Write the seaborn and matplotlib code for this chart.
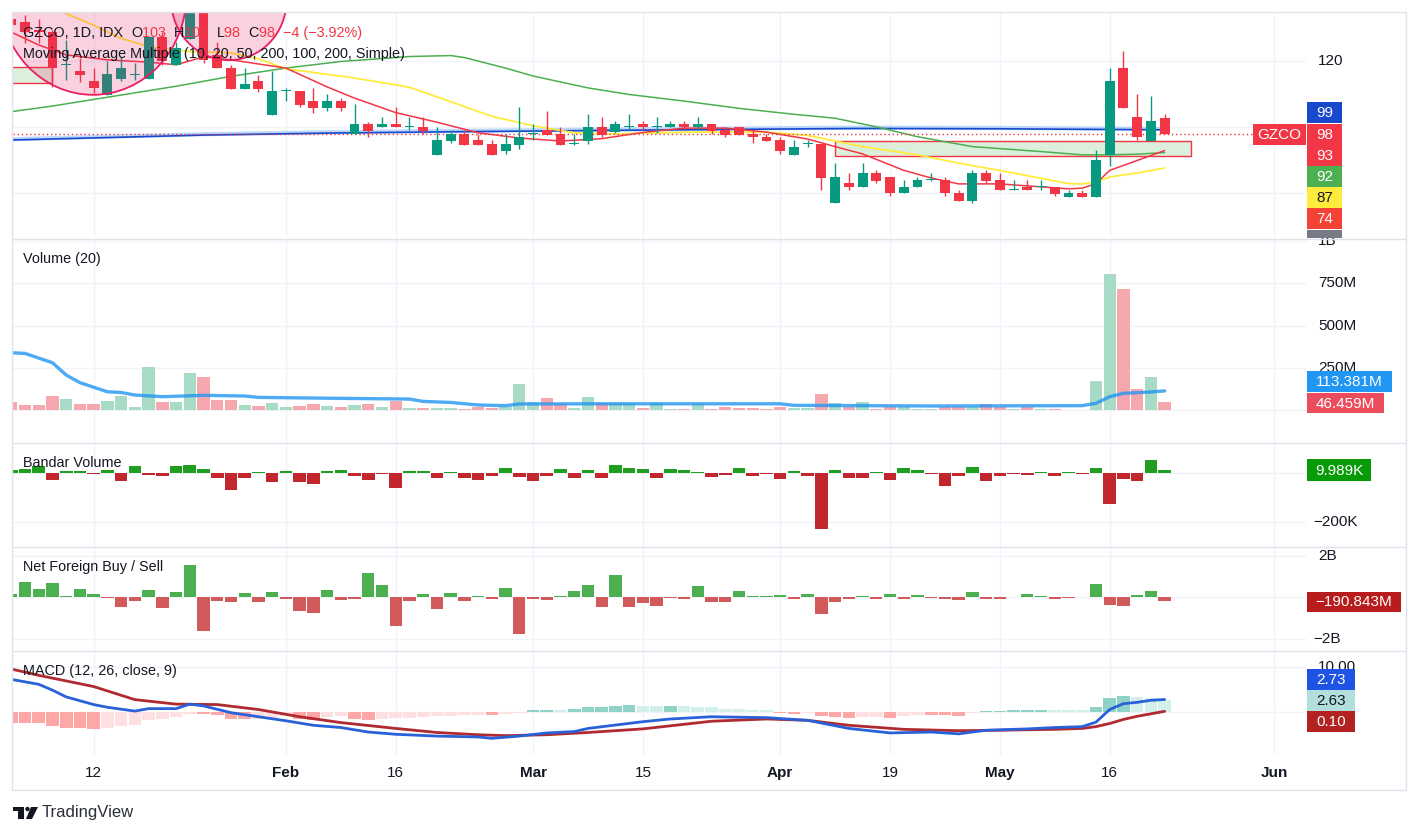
import matplotlib
matplotlib.use("Agg")
import numpy as np
import matplotlib.pyplot as plt
import matplotlib.transforms as mtransforms
from matplotlib.patches import Rectangle, Ellipse, Polygon, Circle
import seaborn as sns

# === DATA (one entry per daily bar) ===
opens = [133.0, 132.0, 129.5, 129.0, 119.0, 117.2, 114.1, 109.8, 114.7, 116.0,
         114.7, 127.3, 118.9, 126.7, 137.0, 122.0, 118.0, 111.6, 114.1, 103.8,
         111.2, 111.2, 108.0, 106.0, 108.0, 98.0, 101.1, 100.0, 101.1, 100.0,
         100.0, 91.7, 96.0, 98.0, 96.2, 95.0, 93.0, 94.7, 98.0, 99.2,
         98.0, 95.0, 96.0, 100.0, 98.7, 100.0, 101.1, 100.0, 100.0, 101.1,
         100.0, 101.1, 99.2, 100.0, 98.0, 97.2, 96.2, 91.7, 95.0, 95.0,
         77.0, 83.1, 81.9, 86.1, 84.9, 80.1, 81.9, 84.1, 84.1, 80.1,
         77.8, 86.1, 84.1, 81.1, 82.1, 81.9, 81.9, 79.0, 80.1, 79.0,
         91.7, 117.9, 103.3, 96.0, 103.0]
highs = [134.5, 134.1, 133.0, 129.5, 126.5, 121.0, 117.9, 120.0, 121.5, 119.4,
         127.5, 129.0, 126.0, 140.0, 139.0, 126.0, 119.0, 117.9, 115.9, 117.0,
         111.9, 111.2, 111.9, 110.0, 108.8, 107.0, 101.7, 103.1, 106.1, 103.1,
         103.1, 100.0, 99.2, 99.2, 98.0, 96.2, 98.0, 106.1, 101.1, 105.1,
         100.0, 98.0, 104.1, 103.1, 102.1, 104.1, 102.1, 103.1, 102.1, 102.1,
         103.1, 101.1, 100.0, 100.0, 99.2, 98.0, 97.2, 96.2, 96.2, 95.0,
         89.1, 86.1, 89.1, 87.1, 84.9, 84.2, 85.1, 86.1, 85.1, 81.1,
         87.1, 87.1, 86.1, 84.1, 84.1, 84.1, 82.1, 81.1, 81.1, 93.2,
         117.9, 123.1, 110.1, 109.4, 104.0]
lows = [130.0, 125.5, 125.5, 112.2, 114.4, 113.9, 110.4, 109.8, 114.2, 114.4,
        114.7, 119.0, 118.9, 126.7, 119.5, 118.0, 111.6, 111.6, 110.9, 103.8,
        108.1, 106.3, 104.3, 105.0, 105.0, 98.0, 97.2, 100.0, 100.0, 99.2,
        98.0, 91.7, 95.2, 94.7, 94.7, 91.7, 92.0, 93.5, 96.2, 97.7,
        94.7, 94.7, 95.0, 97.2, 98.2, 99.2, 99.2, 98.2, 100.0, 99.2,
        99.2, 98.0, 97.2, 97.7, 95.2, 96.0, 92.0, 91.7, 94.2, 81.1,
        77.0, 81.1, 81.9, 83.3, 79.3, 80.1, 81.9, 83.9, 79.3, 77.8,
        77.2, 83.3, 80.9, 80.9, 80.9, 81.1, 79.3, 79.0, 79.0, 79.0,
        88.2, 106.0, 96.2, 96.0, 98.0]
closes = [131.0, 129.0, 128.8, 118.0, 119.2, 115.9, 111.9, 116.2, 117.9, 116.3,
          127.3, 120.0, 124.0, 137.0, 120.5, 118.0, 111.6, 113.2, 111.6, 111.2,
          111.2, 106.8, 106.0, 108.0, 106.0, 101.1, 99.0, 101.1, 100.0, 100.0,
          99.0, 96.2, 98.0, 94.7, 94.7, 91.7, 95.0, 97.2, 98.0, 97.7,
          94.7, 95.0, 100.0, 97.7, 101.1, 100.0, 100.0, 100.0, 101.1, 100.0,
          101.1, 99.0, 97.7, 97.7, 97.0, 96.0, 93.0, 94.2, 95.0, 84.8,
          84.9, 81.9, 86.1, 83.9, 80.1, 81.9, 84.1, 84.1, 80.1, 77.8,
          86.1, 83.9, 80.9, 81.1, 80.9, 81.9, 79.9, 80.1, 79.0, 90.2,
          114.1, 106.0, 97.0, 102.0, 98.0]

# volume in millions of shares
volume = [49, 30, 30, 83, 65, 36, 36, 53, 83, 20,
          254, 47, 47, 219, 195, 59, 59, 30, 26, 41,
          20, 26, 36, 26, 20, 30, 36, 20, 53, 14,
          14, 14, 14, 6, 20, 14, 20, 154, 47, 71,
          36, 14, 77, 41, 41, 41, 14, 41, 6, 6,
          36, 6, 18, 12, 12, 4, 18, 14, 14, 95,
          41, 18, 47, 6, 18, 18, 6, 6, 18, 18,
          18, 36, 18, 6, 18, 6, 6, 2, 3, 172,
          805, 716, 124, 195, 46.459]
vol_ma_idx = [0, 1, 3, 4, 5, 7, 8, 9, 11, 14, 17, 18, 22, 29, 30, 32, 34, 36, 37, 42,
              56, 57, 67, 78, 79, 80, 81, 83, 84]
vol_ma = [339, 335, 280, 207, 162, 108, 104, 89, 79, 87, 83, 75, 71, 65, 51, 45, 30, 26, 36, 37,
          37, 28, 24, 26, 40, 79, 99, 107, 113.381]

# bandar volume in thousands
bandar = [11, 14, 30, -27, 7, 7, -5, 11, -31, 27,
          -8, -14, 27, 31, 15, -22, -68, -22, 4, -38,
          7, -38, -46, 7, 11, -14, -30, -5, -63, 7,
          7, -22, 3, -22, -30, -14, 22, -18, -34, -14,
          18, -22, 10, -22, 34, 22, 18, -22, 14, 10,
          3, -15, -7, 20, -11, -4, -23, 8, -11, -227,
          12, -19, -19, 4, -27, 20, 12, -4, -52, -11,
          24, -31, -11, -4, -7, 4, -11, 4, -4, 20,
          -125, -23, -31, 53, 9.989]

# net foreign buy / sell in millions
foreign = [160, 736, 400, 688, 64, 400, 160, -32, -448, -176,
           352, -512, 256, 1552, -1616, -176, -224, 208, -224, 256,
           -80, -640, -752, 352, -128, -80, 1168, 592, -1360, -176,
           160, -560, 208, -176, 64, -80, 448, -1760, -80, -128,
           64, 304, 592, -464, 1072, -464, -272, -416, -32, -80,
           544, -224, -224, 304, 64, 64, 112, -80, 160, -800,
           -224, -80, 64, -80, 160, -80, 112, -32, -80, -128,
           256, -80, -80, 16, 160, 64, -80, -32, 16, 640,
           -368, -416, 112, 304, -190.843]

# moving averages (bar index, value)
ma10_idx = [0, 2, 4, 7, 10, 12, 14, 16, 20, 23, 25, 28, 31, 34, 37, 40, 43, 46, 49, 52,
            55, 58, 60, 62, 65, 67, 69, 72, 75, 77, 78, 79, 80, 82, 84]
ma10 = [128.9, 125.0, 122.0, 120.5, 119.8, 119.0, 121.4, 120.5, 118.0, 112.3, 108.9, 104.5,
        101.6, 98.4, 96.8, 95.9, 96.6, 98.5, 99.8, 99.8, 98.6, 96.5, 94.2, 92.0, 87.0, 84.7,
        82.9, 82.9, 82.0, 81.4, 81.6, 83.0, 87.0, 90.0, 93.0]
ma20_idx = [3, 4, 6, 8, 10, 13, 16, 18, 20, 25, 29, 32, 35, 38, 41, 44, 46, 50, 55, 58,
            62, 66, 69, 73, 77, 78, 79, 80, 82, 84]
ma20 = [137.0, 134.5, 131.0, 127.0, 124.5, 123.0, 122.6, 120.8, 117.8, 115.0, 112.2, 107.8,
        103.4, 100.5, 98.4, 98.0, 98.3, 98.6, 98.6, 97.6, 94.2, 91.7, 89.2, 86.2, 83.0, 82.9,
        83.5, 85.0, 86.2, 87.7]
ma50_idx = [0, 3, 6, 9, 12, 16, 20, 24, 29, 32, 33, 36, 38, 42, 45, 49, 53, 57, 60, 63,
            66, 70, 75, 78, 80, 82, 84]
ma50 = [104.8, 106.5, 108.5, 110.5, 112.5, 115.5, 118.0, 120.0, 121.5, 121.8, 121.2, 118.0,
        115.6, 112.0, 110.0, 108.0, 105.8, 104.0, 102.8, 100.2, 97.2, 94.2, 92.7, 91.7, 91.7,
        91.9, 92.4]
ma200_idx = [0, 14, 23, 32, 43, 55, 62, 72, 84]
ma200 = [96.2, 97.7, 98.3, 98.7, 99.1, 99.5, 99.7, 99.6, 99.3]

# MACD (12, 26, close, 9)
macd_idx = [0, 2, 3, 4, 6, 7, 9, 10, 12, 13, 14, 16, 18, 20, 22, 24, 26, 28, 31, 34,
            35, 37, 39, 41, 42, 46, 48, 51, 55, 58, 61, 64, 67, 69, 71, 74, 76, 78, 79, 80,
            81, 82, 83, 84]
macd = [7.2, 6.1, 4.8, 3.3, 1.6, 1.0, 0.15, 0.7, 0.7, 1.7, 1.3, -0.2, -1.1, -2.0, -3.0, -3.5,
        -4.5, -5.0, -5.4, -5.6, -5.9, -5.4, -4.7, -4.4, -3.7, -2.2, -1.6, -1.1, -1.3, -1.9,
        -3.7, -4.7, -4.5, -4.9, -4.1, -3.8, -3.5, -3.3, -2.3, 0.5, 1.8, 2.1, 2.55, 2.73]
signal_idx = [0, 2, 6, 9, 12, 15, 18, 21, 24, 28, 31, 34, 36, 39, 42, 46, 51, 55, 58, 61,
              65, 69, 72, 76, 78, 79, 80, 81, 82, 83, 84]
signal = [9.5, 8.1, 5.6, 2.7, 1.7, 1.6, 0.5, -1.1, -2.4, -3.7, -4.6, -5.1, -5.3, -5.1, -4.6,
          -3.8, -2.1, -1.6, -1.9, -3.0, -3.9, -4.2, -4.1, -3.9, -3.7, -3.3, -2.6, -1.7, -1.0,
          -0.45, 0.10]
hist = [-2.4, -2.45, -2.6, -3.2, -3.5, -3.7, -3.9, -3.6, -3.2, -3.0,
        -1.9, -1.6, -1.1, -0.4, -0.45, -0.7, -1.5, -1.7, -1.5, -1.3,
        -1.0, -1.7, -1.8, -1.1, -1.0, -1.7, -1.75, -1.5, -1.45, -1.3,
        -1.1, -1.0, -0.95, -0.8, -0.7, -0.75, -0.5, -0.2, 0.4, 0.5,
        0.45, 0.7, 1.0, 1.1, 1.3, 1.5, 1.35, 1.3, 1.35, 1.3,
        1.15, 1.05, 0.7, 0.55, 0.5, 0.4, -0.35, -0.4, -0.35, -0.9,
        -1.1, -1.3, -1.25, -1.1, -1.3, -1.0, -0.7, -0.75, -0.8, -0.85,
        -0.3, 0.15, 0.2, 0.35, 0.4, 0.45, 0.4, 0.38, 0.35, 1.1,
        3.1, 3.6, 3.3, 3.0, 2.63]

tick_idx = [6, 20, 28, 38, 46, 56, 64, 72, 80, 92]
tick_lbl = ["12", "Feb", "16", "Mar", "15", "Apr", "19", "May", "16", "Jun"]

# === STYLE ===
sns.set_theme(style="white")
plt.rcParams["font.family"] = ["Liberation Sans", "DejaVu Sans"]

UP, DOWN = "#089981", "#f23645"
TXT = "#131722"
GRID = "#f0f3fa"
BORDER = "#e0e3eb"
FS_LEG = 10.4
FS_AX = 11

W, H = 1420, 834
PLOT_L, PLOT_R, FRAME_R = 13, 1306, 1406
BAR_PX = 13.73
X_MIN = 0.124
X_MAX = X_MIN + (PLOT_R - PLOT_L) / BAR_PX

fig = plt.figure(figsize=(W / 100, H / 100), dpi=100)
fig.patch.set_facecolor("white")

idx = np.arange(len(closes))
o, h, l, c = map(np.array, (opens, highs, lows, closes))
up = c >= o


def panel(y0, y1, ylim, hgrid):
    ax = fig.add_axes([PLOT_L / W, 1 - y1 / H, (PLOT_R - PLOT_L) / W, (y1 - y0) / H])
    ax.set_xlim(X_MIN, X_MAX)
    ax.set_ylim(*ylim)
    ax.set_axis_off()
    for t in tick_idx:
        ax.axvline(t, color=GRID, lw=1, zorder=0)
    for g in hgrid:
        ax.axhline(g, color=GRID, lw=1, zorder=0)
    sc = fig.add_axes([PLOT_R / W, 1 - y1 / H, (FRAME_R - PLOT_R) / W, (y1 - y0) / H])
    sc.set_xlim(PLOT_R, FRAME_R)
    sc.set_ylim(*ylim)
    sc.set_axis_off()
    return ax, sc


# --- price panel ---
ax_p, sc_p = panel(13, 238, (66.5, 134.7), [80, 100, 120])
ax_p.add_patch(Rectangle((-5, 113.5), 8.0, 4.8, facecolor="#dcefdc", edgecolor=DOWN, lw=1, zorder=1))
ax_p.add_patch(Rectangle((60, 91.4), 25.9, 4.5, facecolor="#dcefdc", edgecolor=DOWN, lw=1, zorder=1))
sns.lineplot(x=ma200_idx, y=[v + 0.25 for v in ma200], ax=ax_p, color="#90bff9", lw=3, alpha=0.6, zorder=2)
sns.lineplot(x=ma200_idx, y=ma200, ax=ax_p, color="#1848cc", lw=1.2, zorder=2)
sns.lineplot(x=ma50_idx, y=ma50, ax=ax_p, color="#4caf50", lw=1.1, zorder=2)
sns.lineplot(x=ma20_idx, y=ma20, ax=ax_p, color="#ffeb3b", lw=1.3, zorder=2)
sns.lineplot(x=ma10_idx, y=ma10, ax=ax_p, color=DOWN, lw=1.1, zorder=2)
ax_p.set_axis_off()
ccol = np.where(up, UP, DOWN)
ax_p.vlines(idx, l, h, colors=ccol, lw=1, zorder=3)
body = np.maximum(np.abs(c - o), 0.3)
ax_p.bar(idx, body, bottom=np.minimum(o, c), width=0.72, color=ccol, linewidth=0, zorder=3)
ax_p.axhline(closes[-1], color=DOWN, lw=1, ls=(0, (1, 2)), zorder=2)
pink = (233 / 255, 30 / 255, 99 / 255, 0.2)
ax_p.add_patch(Ellipse((5.95, 140.2), 13.6, 60.6, facecolor=pink, edgecolor="#e91e63", lw=1.3, zorder=4))
ax_p.add_patch(Ellipse((15.85, 138.6), 8.4, 36.4, facecolor=pink, edgecolor="#e91e63", lw=1.3, zorder=4))
sc_p.text(1318, 120, "120", color=TXT, fontsize=FS_AX, va="center")

# --- volume panel ---
ax_v, sc_v = panel(240, 442, (-189, 1006), [250, 500, 750, 1000])
ax_v.axhline(0, color=GRID, lw=1, zorder=0)
ax_v.bar(idx, volume, width=0.9, color=np.where(up, "#a7dbc6", "#f6a7ad"), linewidth=0, zorder=1)
sns.lineplot(x=vol_ma_idx, y=vol_ma, ax=ax_v, color="#2196f3", lw=2.4, alpha=0.8, zorder=2)
ax_v.set_axis_off()
for v, s in [(1000, "1B"), (750, "750M"), (500, "500M"), (250, "250M")]:
    sc_v.text(1318, v, s, color=TXT, fontsize=FS_AX, va="center")

# --- bandar volume panel ---
ax_b, sc_b = panel(443, 546, (-298, 122), [0, -200])
bv = np.array(bandar)
ax_b.bar(idx, bv, width=0.92, color=np.where(bv >= 0, "#1f9e1f", "#c2272d"), linewidth=0, zorder=1)
sc_b.text(1313, -200, "\u2212200K", color=TXT, fontsize=FS_AX, va="center")

# --- net foreign panel ---
ax_f, sc_f = panel(547, 650, (-2530, 2410), [2000, 0, -2000])
fv = np.array(foreign)
ax_f.bar(idx, fv, width=0.9, color=np.where(fv >= 0, "#4caf50", "#d35a5a"), linewidth=0, zorder=1)
sc_f.text(1318, 2000, "2B", color=TXT, fontsize=FS_AX, va="center")
sc_f.text(1313, -2000, "\u22122B", color=TXT, fontsize=FS_AX, va="center")

# --- MACD panel ---
ax_m, sc_m = panel(651, 755, (-9.6, 13.5), [10, 0])
hv = np.array(hist)
prev = np.concatenate([[0.0], hv[:-1]])
hcol = np.where(hv >= 0, np.where(hv > prev, "#8fd3c6", "#d3efea"),
                np.where(hv < prev, "#fea7a7", "#fee0e2"))
ax_m.bar(idx, hv, width=0.92, color=hcol, linewidth=0, zorder=1)
sns.lineplot(x=signal_idx, y=signal, ax=ax_m, color="#b02a30", lw=2, zorder=2)
sns.lineplot(x=macd_idx, y=macd, ax=ax_m, color="#2962d8", lw=2, zorder=3)
ax_m.set_axis_off()
sc_m.text(1318, 10, "10.00", color=TXT, fontsize=FS_AX, va="center")
trans = mtransforms.blended_transform_factory(ax_m.transData, ax_m.transAxes)
for t, s in zip(tick_idx, tick_lbl):
    ax_m.text(t, -0.17, s, transform=trans, ha="center", va="center", color=TXT,
              fontsize=FS_AX, fontweight="bold" if s.isalpha() else "normal", clip_on=False)

# === OVERLAY: frame, legends, scale labels (pixel coords) ===
ov = fig.add_axes([0, 0, 1, 1], zorder=10)
ov.set_xlim(0, W)
ov.set_ylim(H, 0)
ov.set_axis_off()
ov.patch.set_alpha(0)
ov.add_patch(Rectangle((12, 12), FRAME_R - 12, 778, fill=False, edgecolor=BORDER, lw=1))
ov.hlines([239, 442.5, 546.5, 650.5], 12, FRAME_R, color=BORDER, lw=1)

renderer = fig.canvas.get_renderer()


def legend_line(x, y, parts, size=FS_LEG):
    for s, col in parts:
        t = ov.text(x, y, s, color=col, fontsize=size, va="center", ha="left")
        x += t.get_window_extent(renderer=renderer).width


legend_line(23, 33, [("GZCO, 1D, IDX  ", TXT), ("O", TXT), ("103  ", DOWN), ("H", TXT),
                     ("104  ", DOWN), ("L", TXT), ("98  ", DOWN), ("C", TXT), ("98  ", DOWN),
                     ("\u22124 (\u22123.92%)", DOWN)])
legend_line(23, 54, [("Moving Average Multiple (10, 20, 50, 200, 100, 200, Simple)", TXT)])
legend_line(23, 259, [("Volume (20)", TXT)])
legend_line(23, 463, [("Bandar Volume", TXT)])
legend_line(23, 567, [("Net Foreign Buy / Sell", TXT)])
legend_line(23, 671, [("MACD (12, 26, close, 9)", TXT)])

boxes = [
    (1307, 1342, 102, 123, "99", "#1848cc", "white"),
    (1253, 1306, 124, 145, "GZCO", DOWN, "white"),
    (1307, 1342, 124, 145, "98", DOWN, "white"),
    (1307, 1342, 145, 166, "93", DOWN, "white"),
    (1307, 1342, 166, 187, "92", "#4caf50", "white"),
    (1307, 1342, 187, 208, "87", "#ffeb3b", TXT),
    (1307, 1342, 208, 229, "74", "#f44336", "white"),
    (1307, 1342, 230, 238, "", "#787b86", "white"),
    (1307, 1392, 371, 392, "113.381M", "#2196f3", "white"),
    (1307, 1384, 393, 413, "46.459M", "#eb4d5c", "white"),
    (1307, 1371, 459, 481, "9.989K", "#089b08", "white"),
    (1307, 1401, 592, 612, "\u2212190.843M", "#b81c1c", "white"),
    (1307, 1355, 669, 690, "2.73", "#1e53e5", "white"),
    (1307, 1355, 690, 711, "2.63", "#b2dfdb", TXT),
    (1307, 1355, 711, 732, "0.10", "#b22222", "white"),
]
for x0, x1, y0, y1, s, bg, fg in boxes:
    ov.add_patch(Rectangle((x0, y0), x1 - x0, y1 - y0, facecolor=bg, edgecolor="none"))
    if s:
        ov.text((x0 + x1) / 2, (y0 + y1) / 2 + 0.5, s, color=fg, fontsize=FS_AX, ha="center", va="center")

# TradingView logo mark + wordmark
ov.add_patch(Rectangle((13, 807), 11, 4, facecolor=TXT, edgecolor="none"))
ov.add_patch(Rectangle((18, 807), 6, 12, facecolor=TXT, edgecolor="none"))
ov.add_patch(Circle((27.5, 809), 2.2, facecolor=TXT, edgecolor="none"))
ov.add_patch(Polygon([(31, 807), (38, 807), (32, 819), (26, 819)], closed=True, facecolor=TXT, edgecolor="none"))
ov.text(42, 813, "TradingView", color="#2a2e39", fontsize=12, va="center", ha="left")

fig.savefig("out.png", dpi=100)
